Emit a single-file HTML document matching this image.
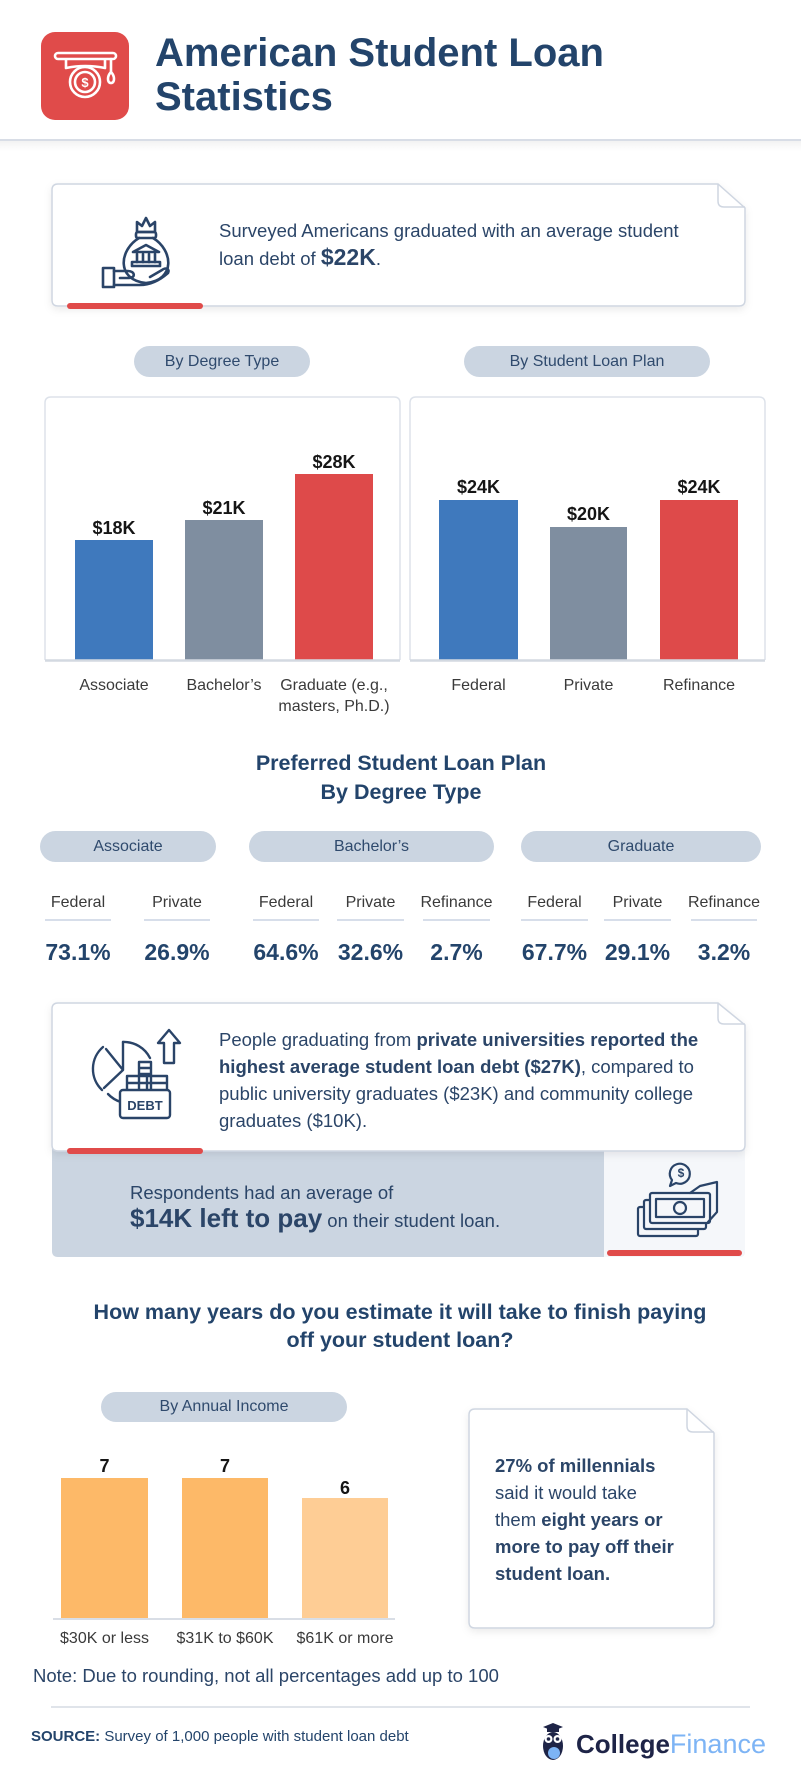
<!DOCTYPE html>
<html><head><meta charset="utf-8">
<style>
*{margin:0;padding:0;box-sizing:border-box}
html,body{width:801px;height:1771px;background:#fff;overflow:hidden}
body{position:relative;font-family:"Liberation Sans",Arial,sans-serif}
svg.bg{position:absolute;left:0;top:0}
.t{position:absolute;white-space:nowrap}
.c{text-align:center;width:300px}
b{font-weight:700}
.body{color:#2b4568;font-size:18.5px}
.pill{font-size:16px;color:#2f4a6d;line-height:22px}
.val{font-size:18px;font-weight:700;color:#151515;line-height:22px}
.cat{font-size:16px;color:#3a3a3a;line-height:21px}
.pct{font-size:23px;font-weight:700;color:#23446b;line-height:28px}
.h2{font-size:21.5px;font-weight:700;color:#23446b;text-align:center}
</style></head><body>
<svg class="bg" width="801" height="1771" viewBox="0 0 801 1771">
<defs>
<filter id="sh" x="-10%" y="-20%" width="120%" height="150%"><feDropShadow dx="0" dy="3" stdDeviation="4" flood-color="#000" flood-opacity="0.08"/></filter>
<linearGradient id="hg" x1="0" y1="0" x2="0" y2="1"><stop offset="0" stop-color="#000" stop-opacity="0.05"/><stop offset="1" stop-color="#000" stop-opacity="0"/></linearGradient>
</defs>
<!-- header icon -->
<rect x="41" y="32" width="88" height="88" rx="14" fill="#e04b4a"/>
<g fill="none" stroke="#fff" stroke-width="2.6" stroke-linecap="round" stroke-linejoin="round">
<rect x="55" y="53" width="61" height="6" rx="3"/>
<path d="M66,60 V68 M105,60 V68 M66,68 Q85,64 105,68"/>
<circle cx="85" cy="82" r="15"/>
<circle cx="85" cy="82" r="10"/>
<path d="M111,59 V72"/>
<path d="M111,72 C107,76 107,83 111,83 C115,83 115,76 111,72 Z"/>
</g>
<text x="85" y="87" font-family="Liberation Sans" font-weight="700" font-size="13" fill="#fff" text-anchor="middle">$</text>
<!-- header line -->
<rect x="0" y="139" width="801" height="2" fill="#d8dde6"/>
<rect x="0" y="141" width="801" height="10" fill="url(#hg)"/>
<!-- card 1 -->
<path filter="url(#sh)" d="M58,184 H718 L745,208 V300 Q745,306 739,306 H58 Q52,306 52,300 V190 Q52,184 58,184 Z" fill="#fff" stroke="#cfd6e1" stroke-width="1.5"/>
<path d="M718,184 V201 Q718,207 724,207 H745" fill="none" stroke="#cfd6e1" stroke-width="1.5"/>
<rect x="67" y="303" width="136" height="6" rx="3" fill="#e04b4a"/>
<!-- money bag icon -->
<g fill="none" stroke="#2a4468" stroke-width="2.6" stroke-linecap="round" stroke-linejoin="round">
<path d="M137,232 V222 L142,226 L146,218 L150,226 L155,222 V232 Z"/>
<rect x="136" y="232" width="20" height="6" rx="2"/>
<path d="M139,238 C119,250 116,280 146,283 C176,280 173,250 153,238"/>
<path d="M133,252 L146,245 L159,252 Z"/>
<path d="M137,254 V262 M143,254 V262 M149,254 V262 M155,254 V262"/>
<rect x="132" y="262" width="28" height="4"/>
<rect x="103" y="268" width="11" height="19"/>
<path d="M114,271 H128 C135,271 136,278 129,278 H120"/>
<path d="M114,285 H140 C150,285 160,280 168,273 C170,269 166,267 162,270 L150,277"/>
</g>
<!-- pills row 1 -->
<rect x="134" y="346" width="176" height="31" rx="15.5" fill="#cbd5e1"/>
<rect x="464" y="346" width="246" height="31" rx="15.5" fill="#cbd5e1"/>
<!-- chart boxes -->
<path d="M45,660 V403 Q45,397 51,397 H394 Q400,397 400,403 V660" fill="none" stroke="#dde2ea" stroke-width="1.5"/>
<path d="M410,660 V403 Q410,397 416,397 H759 Q765,397 765,403 V660" fill="none" stroke="#dde2ea" stroke-width="1.5"/>
<rect x="75" y="540" width="78" height="120" fill="#3f79bd"/>
<rect x="185" y="520" width="78" height="140" fill="#7f8ea0"/>
<rect x="295" y="474" width="78" height="186" fill="#de4a4a"/>
<rect x="439" y="500" width="79" height="160" fill="#3f79bd"/>
<rect x="550" y="527" width="77" height="133" fill="#7f8ea0"/>
<rect x="660" y="500" width="78" height="160" fill="#de4a4a"/>
<path d="M45,660.5 H400 M410,660.5 H765" stroke="#d3d9e1" stroke-width="2.5"/>
<!-- pills row 2 -->
<rect x="40" y="831" width="176" height="31" rx="15.5" fill="#cbd5e1"/>
<rect x="249" y="831" width="245" height="31" rx="15.5" fill="#cbd5e1"/>
<rect x="521" y="831" width="240" height="31" rx="15.5" fill="#cbd5e1"/>
<g stroke="#d7deea" stroke-width="2">
<path d="M45,920 H111 M144,920 H210 M253,920 H319 M337,920 H404 M423,920 H490 M521,920 H588 M604,920 H671 M691,920 H757"/>
</g>
<!-- gray box -->
<path d="M52,1140 H745 V1251 Q745,1257 739,1257 H58 Q52,1257 52,1251 Z" fill="#cbd5e1"/>
<path d="M604,1140 H745 V1251 Q745,1257 739,1257 H604 Z" fill="#f5f7fa"/>
<rect x="607" y="1250" width="135" height="6" rx="3" fill="#e04b4a"/>
<!-- cash icon -->
<g fill="none" stroke="#2a4468" stroke-width="2.2" stroke-linecap="round" stroke-linejoin="round">
<path d="M672,1180 A10,10 0 1 1 676,1183 L670,1186 Z"/>
<rect x="638" y="1207" width="60" height="29" rx="2"/>
<rect x="644" y="1200" width="62" height="29" rx="2" fill="#f5f7fa"/>
<rect x="650" y="1193" width="60" height="30" rx="2" fill="#f5f7fa"/>
<path d="M656,1199 H704 V1217 H656 Z"/>
<circle cx="680" cy="1208" r="6"/>
<path d="M690,1193 L700,1186 L717,1182 V1212 L708,1222"/>
</g>
<text x="681" y="1177" font-family="Liberation Sans" font-weight="700" font-size="12" fill="#2a4468" text-anchor="middle">$</text>
<!-- card 2 -->
<path filter="url(#sh)" d="M58,1003 H718 L745,1025 V1145 Q745,1151 739,1151 H58 Q52,1151 52,1145 V1009 Q52,1003 58,1003 Z" fill="#fff" stroke="#cfd6e1" stroke-width="1.5"/>
<path d="M718,1003 V1018 Q718,1024 724,1024 H745" fill="none" stroke="#cfd6e1" stroke-width="1.5"/>
<rect x="67" y="1148" width="136" height="6" rx="3" fill="#e04b4a"/>
<!-- debt icon -->
<g fill="none" stroke="#2a4468" stroke-width="2.4" stroke-linecap="round" stroke-linejoin="round">
<path d="M103,1047 A29,29 0 0 0 102,1090"/>
<path d="M108,1094 A29,29 0 0 0 121,1102"/>
<path d="M123,1042 A29,29 0 0 1 150,1058"/>
<path d="M123,1042 V1070 L104,1088 M123,1070 L106,1049"/>
<path d="M139,1062 H151 V1090 M139,1062 V1090 M139,1068 H151 M139,1074 H151"/>
<path d="M127,1076 H167 V1090 M127,1076 V1090 M127,1083 H167 M147,1076 V1090"/>
<rect x="120" y="1090" width="50" height="28" rx="3" fill="#fff"/>
<path d="M169,1030 L180,1043 H174 V1063 H164 V1043 H158 Z"/>
</g>
<text x="145" y="1110" font-family="Liberation Sans" font-weight="700" font-size="13" fill="#2a4468" text-anchor="middle">DEBT</text>
<!-- pill income -->
<rect x="101" y="1392" width="246" height="30" rx="15" fill="#cbd5e1"/>
<!-- orange bars -->
<rect x="61" y="1478" width="87" height="141" fill="#fdb968"/>
<rect x="182" y="1478" width="86" height="141" fill="#fdb968"/>
<rect x="302" y="1498" width="86" height="121" fill="#fecd95"/>
<path d="M53,1619 H395" stroke="#d9dee6" stroke-width="2"/>
<!-- card 3 -->
<path filter="url(#sh)" d="M475,1409 H687 L714,1433 V1622 Q714,1628 708,1628 H475 Q469,1628 469,1622 V1415 Q469,1409 475,1409 Z" fill="#fff" stroke="#cfd6e1" stroke-width="1.5"/>
<path d="M687,1409 V1426 Q687,1432 693,1432 H714" fill="none" stroke="#cfd6e1" stroke-width="1.5"/>
<!-- footer -->
<path d="M51,1707 H750" stroke="#d5dbe3" stroke-width="1.5"/>
<!-- owl -->
<ellipse cx="553" cy="1746" rx="10" ry="14" fill="#1e2447"/>
<ellipse cx="554" cy="1753" rx="6" ry="6" fill="#7db4f5"/>
<circle cx="548.5" cy="1739" r="4" fill="#fff"/><circle cx="557.5" cy="1739" r="4" fill="#fff"/>
<circle cx="548.5" cy="1739" r="1.8" fill="#1e2447"/><circle cx="557.5" cy="1739" r="1.8" fill="#1e2447"/>
<path d="M543,1727 L553,1723 L563,1727 L553,1731 Z" fill="#1e2447"/>
<rect x="547" y="1728" width="12" height="4" fill="#1e2447"/>
</svg>

<div class="t" style="left:155px;top:31px;font-size:40px;line-height:44px;font-weight:700;color:#23446b">American Student Loan<br>Statistics</div>

<div class="t body" style="left:219px;top:218px;line-height:26px">Surveyed Americans graduated with an average student<br>loan debt of <b style="font-size:23px;line-height:26px">$22K</b>.</div>

<div class="t pill c" style="left:72px;top:350.5px">By Degree Type</div>
<div class="t pill c" style="left:437px;top:350.5px">By Student Loan Plan</div>

<div class="t val c" style="left:-36px;top:517px">$18K</div>
<div class="t val c" style="left:74px;top:497px">$21K</div>
<div class="t val c" style="left:184px;top:451px">$28K</div>
<div class="t val c" style="left:328.5px;top:476px">$24K</div>
<div class="t val c" style="left:438.5px;top:503px">$20K</div>
<div class="t val c" style="left:549px;top:476px">$24K</div>

<div class="t cat c" style="left:-36px;top:674.5px">Associate</div>
<div class="t cat c" style="left:74px;top:674.5px">Bachelor’s</div>
<div class="t cat c" style="left:184px;top:674.5px">Graduate (e.g.,<br>masters, Ph.D.)</div>
<div class="t cat c" style="left:328.5px;top:674.5px">Federal</div>
<div class="t cat c" style="left:438.5px;top:674.5px">Private</div>
<div class="t cat c" style="left:549px;top:674.5px">Refinance</div>

<div class="t h2" style="left:101px;width:600px;top:748.5px;line-height:29px">Preferred Student Loan Plan<br>By Degree Type</div>

<div class="t pill c" style="left:-22px;top:835.5px">Associate</div>
<div class="t pill c" style="left:221.5px;top:835.5px">Bachelor’s</div>
<div class="t pill c" style="left:491px;top:835.5px">Graduate</div>

<div class="t cat c" style="left:-72px;top:891.5px">Federal</div>
<div class="t cat c" style="left:27px;top:891.5px">Private</div>
<div class="t cat c" style="left:136px;top:891.5px">Federal</div>
<div class="t cat c" style="left:220.5px;top:891.5px">Private</div>
<div class="t cat c" style="left:306.5px;top:891.5px">Refinance</div>
<div class="t cat c" style="left:404.5px;top:891.5px">Federal</div>
<div class="t cat c" style="left:487.5px;top:891.5px">Private</div>
<div class="t cat c" style="left:574px;top:891.5px">Refinance</div>

<div class="t pct c" style="left:-72px;top:938px">73.1%</div>
<div class="t pct c" style="left:27px;top:938px">26.9%</div>
<div class="t pct c" style="left:136px;top:938px">64.6%</div>
<div class="t pct c" style="left:220.5px;top:938px">32.6%</div>
<div class="t pct c" style="left:306.5px;top:938px">2.7%</div>
<div class="t pct c" style="left:404.5px;top:938px">67.7%</div>
<div class="t pct c" style="left:487.5px;top:938px">29.1%</div>
<div class="t pct c" style="left:574px;top:938px">3.2%</div>

<div class="t body" style="left:219px;top:1025.5px;line-height:27px">People graduating from <b>private universities reported the</b><br><b>highest average student loan debt ($27K)</b>, compared to<br>public university graduates ($23K) and community college<br>graduates ($10K).</div>

<div class="t body" style="left:130px;top:1181px;line-height:24px">Respondents had an average of</div>
<div class="t body" style="left:130px;top:1202px;line-height:32px"><b style="font-size:26px;line-height:32px">$14K left to pay</b> on their student loan.</div>

<div class="t h2" style="left:50px;width:700px;top:1298px;line-height:28px">How many years do you estimate it will take to finish paying<br>off your student loan?</div>

<div class="t pill c" style="left:74px;top:1396px">By Annual Income</div>

<div class="t val c" style="left:-45.5px;top:1455px">7</div>
<div class="t val c" style="left:75px;top:1455px">7</div>
<div class="t val c" style="left:195px;top:1477px">6</div>

<div class="t cat c" style="left:-45.5px;top:1627.5px">$30K or less</div>
<div class="t cat c" style="left:75px;top:1627.5px">$31K to $60K</div>
<div class="t cat c" style="left:195px;top:1627.5px">$61K or more</div>

<div class="t body" style="left:495px;top:1451.5px;line-height:27px"><b>27% of millennials</b><br>said it would take<br>them <b>eight years or</b><br><b>more to pay off their</b><br><b>student loan.</b></div>

<div class="t body" style="left:33px;top:1664px;line-height:24px">Note: Due to rounding, not all percentages add up to 100</div>

<div class="t" style="left:31px;top:1727px;line-height:20px;font-size:15px;color:#23446b"><b>SOURCE:</b> Survey of 1,000 people with student loan debt</div>

<div class="t" style="left:576px;top:1728px;line-height:32px"><span style="font-size:26px;font-weight:700;color:#1e2447">College</span><span style="font-size:27px;color:#7db4f5">Finance</span></div>
</body></html>
